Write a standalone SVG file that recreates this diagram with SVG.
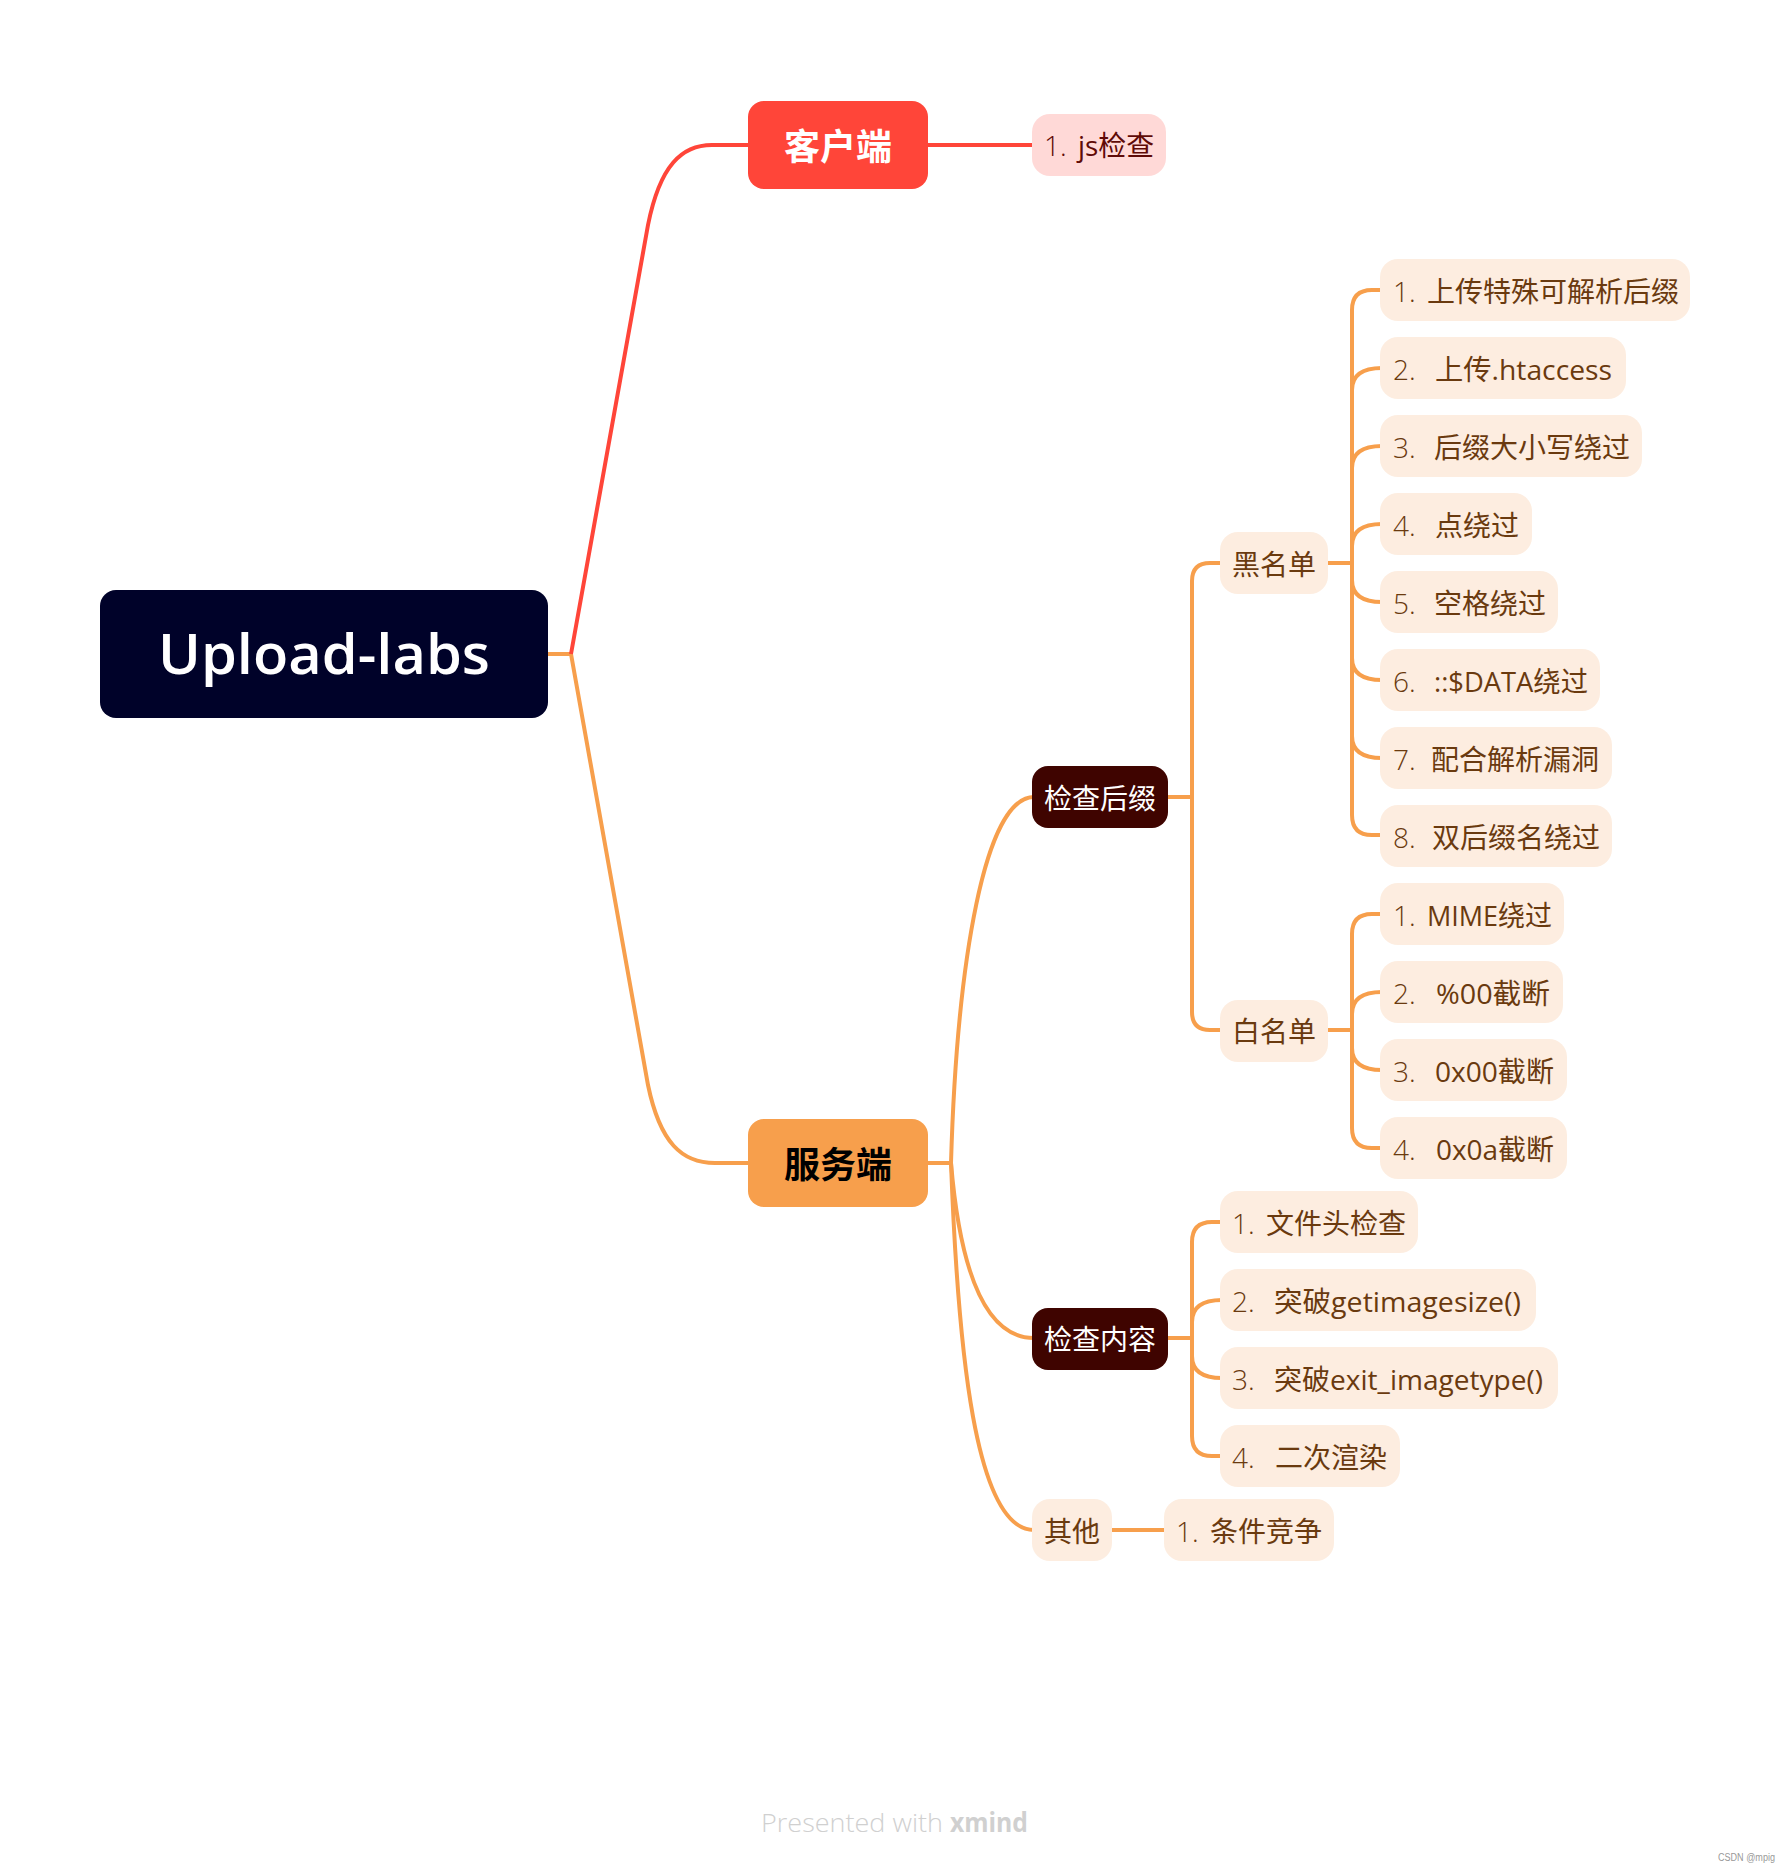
<svg xmlns="http://www.w3.org/2000/svg" width="1790" height="1874" viewBox="0 0 1790 1874">
<style>
text{font-family:"Open Sans","Noto Sans CJK SC",sans-serif;white-space:pre}
.c{fill:none;stroke-width:4;stroke-linecap:butt}
.o{stroke:#F79F4C}.r{stroke:#FF4539}
.l{fill:#FDEDE0}
.t{font-size:28px;fill:#6A3A0F}
.n{font-weight:300}
.d{fill:#3F0400}
.w{font-size:28px;fill:#fff}
.p{fill:#FFD9D7}
.pt{font-size:28px;fill:#5F0A06}
.b{font-size:36px;font-weight:700}
</style>
<rect width="1790" height="1874" fill="#fff"/>
<g id="connectors">
<path class="c o" d="M548 654H571L648 1085C660 1143 682 1163 715 1163H748"/>
<path class="c r" d="M571 654L648 225C660 165 682 145 712 145H748"/>
<path class="c r" d="M928 145H1034"/>
<path class="c o" d="M928 1163H951"/>
<path class="c o" d="M951 1163C957 960 985 797 1034 797"/>
<path class="c o" d="M951 1163C960 1270 985 1338 1034 1338"/>
<path class="c o" d="M951 1163C958 1350 975 1530 1034 1530"/>
<path class="c o" d="M1168 797H1192M1222 563H1210Q1192 563 1192 581V1012Q1192 1030 1210 1030H1222"/>
<path class="c o" d="M1328 563H1352"/>
<path class="c o" d="M1382 290H1372Q1352 290 1352 310V815Q1352 835 1372 835H1382"/>
<path class="c o" d="M1352 390Q1352 368 1382 368M1352 468Q1352 446 1382 446M1352 546Q1352 524 1382 524M1352 580Q1352 602 1382 602M1352 658Q1352 680 1382 680M1352 736Q1352 758 1382 758"/>
<path class="c o" d="M1328 1030H1352"/>
<path class="c o" d="M1382 914H1372Q1352 914 1352 934V1128Q1352 1148 1372 1148H1382"/>
<path class="c o" d="M1352 1014Q1352 992 1382 992M1352 1048Q1352 1070 1382 1070"/>
<path class="c o" d="M1168 1338H1192"/>
<path class="c o" d="M1222 1222H1212Q1192 1222 1192 1242V1436Q1192 1456 1212 1456H1222"/>
<path class="c o" d="M1192 1322Q1192 1300 1222 1300M1192 1356Q1192 1378 1222 1378"/>
<path class="c o" d="M1112 1530H1166"/>
</g>
<g id="root"><rect x="100" y="590" width="448" height="128" rx="16" fill="#000229"/><text x="158" y="674" font-size="56" font-weight="600" fill="#fff" textLength="332" lengthAdjust="spacingAndGlyphs">Upload-labs</text></g>
<g id="client"><rect x="748" y="101" width="180" height="88" rx="16" fill="#FF4539"/><text class="b" x="784" y="160" fill="#fff" textLength="108">客户端</text></g>
<g id="js"><rect class="p" x="1032" y="114" width="134" height="62" rx="18"/><text class="pt n" x="1044" y="156">1.</text><text class="pt" x="1078" y="156" textLength="76" lengthAdjust="spacingAndGlyphs">js检查</text></g>
<g id="server"><rect x="748" y="1119" width="180" height="88" rx="16" fill="#F79F4C"/><text class="b" x="784" y="1178" fill="#000" textLength="108">服务端</text></g>
<g id="suffix"><rect class="d" x="1032" y="766" width="136" height="62" rx="16"/><text class="w" x="1044" y="809">检查后缀</text></g>
<g id="content"><rect class="d" x="1032" y="1308" width="136" height="62" rx="16"/><text class="w" x="1044" y="1350">检查内容</text></g>
<g id="other"><rect class="l" x="1032" y="1499" width="80" height="62" rx="18"/><text class="t" x="1044" y="1542">其他</text></g>
<g id="other1"><rect class="l" x="1164" y="1499" width="170" height="62" rx="18"/><text class="t n" x="1176" y="1542">1.</text><text class="t" x="1210" y="1542">条件竞争</text></g>
<g id="black"><rect class="l" x="1220" y="532" width="108" height="62" rx="18"/><text class="t" x="1232" y="575">黑名单</text></g>
<g id="white"><rect class="l" x="1220" y="1000" width="108" height="62" rx="18"/><text class="t" x="1232" y="1042">白名单</text></g>
<g id="b1"><rect class="l" x="1380" y="259" width="310" height="62" rx="18"/><text class="t n" x="1393" y="302">1.</text><text class="t" x="1427" y="302">上传特殊可解析后缀</text></g>
<g id="b2"><rect class="l" x="1380" y="337" width="246" height="62" rx="18"/><text class="t n" x="1393" y="380">2.</text><text class="t" x="1435" y="380" textLength="177" lengthAdjust="spacingAndGlyphs">上传.htaccess</text></g>
<g id="b3"><rect class="l" x="1380" y="415" width="262" height="62" rx="18"/><text class="t n" x="1393" y="458">3.</text><text class="t" x="1434" y="458">后缀大小写绕过</text></g>
<g id="b4"><rect class="l" x="1380" y="493" width="152" height="62" rx="18"/><text class="t n" x="1393" y="536">4.</text><text class="t" x="1435" y="536">点绕过</text></g>
<g id="b5"><rect class="l" x="1380" y="571" width="178" height="62" rx="18"/><text class="t n" x="1393" y="614">5.</text><text class="t" x="1434" y="614">空格绕过</text></g>
<g id="b6"><rect class="l" x="1380" y="649" width="220" height="62" rx="18"/><text class="t n" x="1393" y="692">6.</text><text class="t" x="1434" y="692" textLength="154" lengthAdjust="spacingAndGlyphs">::$DATA绕过</text></g>
<g id="b7"><rect class="l" x="1380" y="727" width="232" height="62" rx="18"/><text class="t n" x="1393" y="770">7.</text><text class="t" x="1431" y="770">配合解析漏洞</text></g>
<g id="b8"><rect class="l" x="1380" y="805" width="232" height="62" rx="18"/><text class="t n" x="1393" y="848">8.</text><text class="t" x="1432" y="848">双后缀名绕过</text></g>
<g id="w1"><rect class="l" x="1380" y="883" width="184" height="62" rx="18"/><text class="t n" x="1393" y="926">1.</text><text class="t" x="1427" y="926" textLength="125" lengthAdjust="spacingAndGlyphs">MIME绕过</text></g>
<g id="w2"><rect class="l" x="1380" y="961" width="183" height="62" rx="18"/><text class="t n" x="1393" y="1004">2.</text><text class="t" x="1436" y="1004" textLength="114" lengthAdjust="spacingAndGlyphs">%00截断</text></g>
<g id="w3"><rect class="l" x="1380" y="1039" width="187" height="62" rx="18"/><text class="t n" x="1393" y="1082">3.</text><text class="t" x="1435" y="1082" textLength="119" lengthAdjust="spacingAndGlyphs">0x00截断</text></g>
<g id="w4"><rect class="l" x="1380" y="1117" width="187" height="62" rx="18"/><text class="t n" x="1393" y="1160">4.</text><text class="t" x="1436" y="1160" textLength="118" lengthAdjust="spacingAndGlyphs">0x0a截断</text></g>
<g id="c1"><rect class="l" x="1220" y="1191" width="198" height="62" rx="18"/><text class="t n" x="1232" y="1234">1.</text><text class="t" x="1266" y="1234">文件头检查</text></g>
<g id="c2"><rect class="l" x="1220" y="1269" width="316" height="62" rx="18"/><text class="t n" x="1232" y="1312">2.</text><text class="t" x="1274" y="1312" textLength="247" lengthAdjust="spacingAndGlyphs">突破getimagesize()</text></g>
<g id="c3"><rect class="l" x="1220" y="1347" width="338" height="62" rx="18"/><text class="t n" x="1232" y="1390">3.</text><text class="t" x="1274" y="1390" textLength="269" lengthAdjust="spacingAndGlyphs">突破exit_imagetype()</text></g>
<g id="c4"><rect class="l" x="1220" y="1425" width="180" height="62" rx="18"/><text class="t n" x="1232" y="1468">4.</text><text class="t" x="1275" y="1468">二次渲染</text></g>
<text x="761" y="1832" font-size="26" font-weight="300" fill="#d0d0d0" textLength="182" lengthAdjust="spacingAndGlyphs">Presented with</text>
<text x="950" y="1832" font-size="26" font-weight="700" fill="#d0d0d0" textLength="78" lengthAdjust="spacingAndGlyphs">xmind</text>
<text x="1718" y="1861" font-size="10" fill="#999" textLength="57" lengthAdjust="spacingAndGlyphs" style="font-family:'Liberation Sans',sans-serif">CSDN @mpig</text>
</svg>
